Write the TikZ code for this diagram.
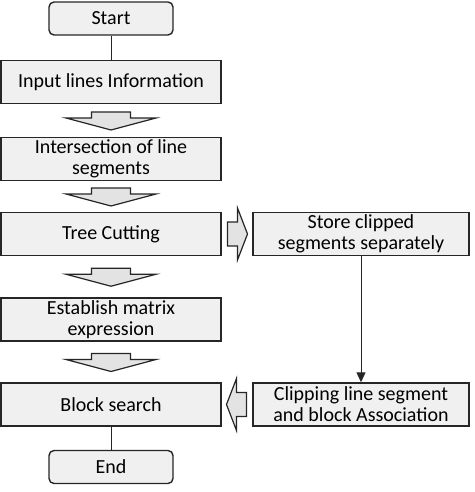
\documentclass[tikz,border=0pt]{standalone}
\usepackage{fontspec}
\setmainfont{Carlito}
\usetikzlibrary{arrows.meta}

\begin{document}
\begin{tikzpicture}[x=1pt, y=1pt, node distance=77pt,
  block/.style={rectangle, draw=black!85, line width=1.4pt, fill=black!6, minimum width=220pt, minimum height=43pt, inner sep=0pt, align=center, font=\fontsize{20}{21}\selectfont},
  sideblock/.style={block, minimum width=216pt},
  term/.style={block, rounded corners=5pt, minimum width=124pt, minimum height=33pt},
  bigarrow/.style={draw=black!85, line width=1.2pt, fill=black!11, line join=miter},
  downarrow/.pic={\draw[bigarrow] (-19.5,8.5) -- (19.5,8.5) -- (19.5,2.5) -- (45,2.5) -- (0,-9.5) -- (-45,2.5) -- (-19.5,2.5) -- cycle;},
  rightarrow/.pic={\draw[bigarrow] (-9.5,12) -- (0.5,12) -- (0.5,26) -- (10.5,0) -- (0.5,-26) -- (0.5,-12) -- (-9.5,-12) -- cycle;}]

    \useasboundingbox (0,0) rectangle (474,-492);

    \node[term] (start) at (111,-18.5) {Start};
    \node[block, below of=start, node distance=63.5pt] (input) {Input lines Information};
    \node[block, below of=input] (inter) {Intersection of line\\segments};
    \node[block, below of=inter, node distance=75pt] (tree) {Tree Cutting};
    \node[block, below of=tree, node distance=85.5pt] (matrix) {Establish matrix\\expression};
    \node[block, below of=matrix, node distance=85pt] (search) {Block search};
    \node[term, below of=search, node distance=62.5pt] (end) {End};

    \node[sideblock, right of=tree, node distance=250pt] (store) {Store clipped\\segments separately};
    \node[sideblock, right of=search, node distance=250pt] (clip) {Clipping line segment\\and block Association};

    \draw[line width=1pt, black!85] (start) -- (input);
    \draw[line width=1pt, black!85] (search) -- (end);
    \draw[line width=1pt, black!85, -{Triangle[width=9pt, length=10pt]}] (store) -- (clip);

    \path (input) -- coordinate[midway] (a1) (inter);
    \path (inter) -- coordinate[midway] (a2) (tree);
    \path (tree) -- coordinate[midway] (a3) (matrix);
    \path (matrix) -- coordinate[midway] (a4) (search);
    \path (tree.east) -- coordinate[midway] (a5) (store.west);
    \path (search.east) -- coordinate[midway] (a6) (clip.west);

    \pic at (a1) {downarrow};
    \pic at (a2) {downarrow};
    \pic at (a3) {downarrow};
    \pic at (a4) {downarrow};
    \pic at (a5) {rightarrow};
    \pic[rotate=180] at (a6) {rightarrow};

  \end{tikzpicture}
\end{document}
